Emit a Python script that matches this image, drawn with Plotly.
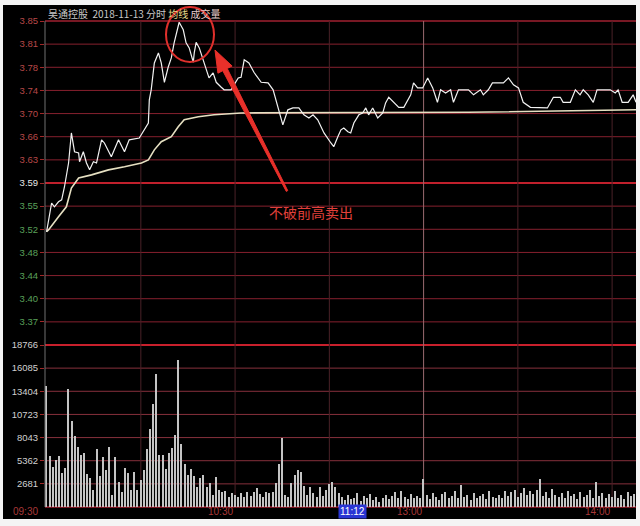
import plotly.graph_objects as go

# ---------------- data (minutes from 09:30, trading time) ----------------
price_time = [0, 1.6, 2.5, 3.8, 4.8, 5.7, 7.0, 7.9, 8.9, 10.2, 10.5, 11.7, 12.7, 13.7, 14.9, 15.9,
              17.5, 18.4, 20.6, 22.9, 24.8, 26.3, 29.5, 30.8, 31.7, 32.4, 32.7, 33.3, 34.3, 35.6,
              36.5, 37.5, 38.7, 39.7, 40.6, 41.9, 42.2, 43.5, 44.4, 45.4, 46.7, 47.0, 47.6, 48.6,
              49.8, 50.8, 51.7, 53.0, 54.0, 55.6, 56.5, 58.7, 61.0, 61.9, 62.9, 64.4, 66.0, 68.3,
              70.5, 72.1, 73.7, 75.2, 76.8, 78.4, 80.3, 81.9, 83.5, 84.8, 86.3, 88.3, 90.5, 91.4,
              92.7, 93.7, 94.6, 95.9, 96.8, 97.8, 99.4, 100.6, 101.6, 102.5, 103.8, 105.4, 107.0,
              107.9, 108.9, 110.5, 112.1, 113.7, 115.9, 116.8, 118.1, 119.7, 121.3, 122.9, 124.4,
              125.4, 127.0, 128.6, 129.5, 131.1, 134.3, 135.9, 138.1, 139.0, 140.6, 141.9, 145.4,
              147.0, 148.6, 150.2, 151.7, 154.0, 159.4, 161.3, 163.5, 164.4, 166.7, 168.3, 169.8,
              170.8, 172.4, 174.0, 175.2, 179.4, 181.0, 181.9, 183.2, 185.1, 186.7, 187.6]
price_value = [3.513, 3.559, 3.553, 3.561, 3.564, 3.585, 3.623, 3.671, 3.641, 3.639, 3.625, 3.641,
               3.623, 3.612, 3.625, 3.623, 3.660, 3.655, 3.633, 3.660, 3.641, 3.660, 3.663, 3.673,
               3.681, 3.687, 3.724, 3.740, 3.783, 3.799, 3.783, 3.752, 3.776, 3.791, 3.815, 3.844,
               3.848, 3.836, 3.815, 3.807, 3.784, 3.799, 3.816, 3.807, 3.788, 3.772, 3.759, 3.767,
               3.752, 3.744, 3.740, 3.740, 3.759, 3.760, 3.788, 3.783, 3.768, 3.752, 3.751, 3.740,
               3.712, 3.684, 3.708, 3.711, 3.711, 3.700, 3.695, 3.700, 3.692, 3.671, 3.655, 3.649,
               3.665, 3.676, 3.679, 3.673, 3.671, 3.687, 3.700, 3.703, 3.711, 3.700, 3.711, 3.695,
               3.703, 3.719, 3.728, 3.720, 3.712, 3.712, 3.732, 3.751, 3.743, 3.743, 3.759, 3.743,
               3.720, 3.740, 3.735, 3.740, 3.720, 3.740, 3.740, 3.732, 3.740, 3.732, 3.740, 3.751,
               3.751, 3.759, 3.748, 3.743, 3.720, 3.712, 3.711, 3.728, 3.728, 3.720, 3.720, 3.740,
               3.732, 3.740, 3.732, 3.720, 3.740, 3.740, 3.735, 3.740, 3.720, 3.720, 3.732, 3.720]

avg_time = [0, 0.6, 3.8, 6.3, 7.9, 10.2, 14.3, 19.7, 24.8, 30.2, 32.4, 34.3, 36.5, 39.7, 41.9,
            43.8, 48.3, 53.3, 61.9, 112.1, 134.3, 187.6]
avg_value = [3.513, 3.516, 3.537, 3.553, 3.583, 3.599, 3.604, 3.612, 3.617, 3.623, 3.628, 3.644,
             3.657, 3.665, 3.681, 3.692, 3.697, 3.700, 3.703, 3.703, 3.704, 3.708]

volume = [14040, 5870, 4600, 5400, 5870, 3900, 4490, 13700, 10000, 8170,
          6900, 5980, 6200, 3800, 3340, 1960, 6680, 3570, 5750, 4260,
          6900, 1380, 5750, 2880, 1730, 4490, 3900, 1960, 4030, 1960,
          3110, 4260, 6680, 9090, 11970, 15420, 5980, 5980, 4370, 6200,
          6790, 8290, 17030, 7250, 4950, 3680, 4370, 3570, 2300, 3340,
          3680, 2300, 2760, 1380, 3450, 1960, 1730, 1840, 1150, 1610,
          1380, 1150, 1610, 1150, 1730, 1270, 1730, 2190, 1500, 1150,
          1730, 1610, 1730, 2760, 4950, 7940, 1380, 1150, 2760, 3680,
          4260, 4030, 2420, 1380, 2300, 1610, 1150, 2300, 1270, 1960,
          2650, 2880, 2300, 1610, 1200, 800, 1400, 950, 1100, 1600,
          700, 1300, 1000, 1500, 800, 1200, 600, 1100, 1400, 900,
          1300, 1700, 1000, 1800, 1200, 900, 1500, 1100, 1300, 1000,
          3300, 1400, 900, 1600, 1200, 800, 1500, 1700, 1000, 1300,
          1900, 1100, 2500, 1200, 1400, 800, 1600, 1100, 1300, 1500,
          900, 1800, 1200, 1000, 1400, 1100, 1900, 1300, 1700, 2000,
          1200, 1600, 2200, 1400, 1800, 1500, 2000, 3300, 1300, 1700,
          1100, 2100, 1400, 1200, 1600, 1000, 1800, 1300, 1500, 900,
          1700, 1200, 1400, 2000, 1100, 2900, 1300, 1600, 1000, 1500,
          1200, 1800, 1100, 1400, 900, 1700, 1300, 1500]
volume_time = list(range(len(volume)))

price_tick_vals = [3.850, 3.813, 3.776, 3.739, 3.702, 3.665, 3.628, 3.591,
                   3.554, 3.517, 3.480, 3.443, 3.406, 3.369]
price_tick_labels = ["3.85", "3.81", "3.78", "3.74", "3.70", "3.66", "3.63", "3.59",
                     "3.55", "3.52", "3.48", "3.44", "3.40", "3.37"]
prev_close = 3.591
price_bottom = 3.332

vol_tick_vals = [2681, 5362, 8043, 10723, 13404, 16085, 18766]
vol_tick_labels = ["2681", "5362", "8043", "10723", "13404", "16085", "18766"]

time_grid = [30, 60, 90, 120, 150, 180]
time_label_pos = [0, 60, 120, 180]
time_labels = ["09:30", "10:30", "13:00", "14:00"]
cursor_time = 102
cursor_label = "11:12"

# ---------------- layout helpers (pixel -> paper for decorations) ----------------
W, H = 640, 526
L, R, T, B = 45, 4, 21, 19
PW, PH = W - L - R, H - T - B


def px(x):
    return (x - L) / PW


def py(y):
    return (H - B - y) / PH


FONT = "Liberation Sans, Arial, sans-serif"
CJK = "Noto Sans CJK SC, sans-serif"

fig = go.Figure()

fig.add_trace(go.Bar(x=volume_time, y=volume, yaxis="y2", width=0.45,
                     marker=dict(color="#c4c4c4", line=dict(width=0)), hoverinfo="skip"))
fig.add_trace(go.Scatter(x=avg_time, y=avg_value, mode="lines",
                         line=dict(color="#e6e0c2", width=1.6), hoverinfo="skip"))
fig.add_trace(go.Scatter(x=price_time, y=price_value, mode="lines",
                         line=dict(color="#f2f2f2", width=1.2), hoverinfo="skip"))

shapes = []
# horizontal grid lines
for v in price_tick_vals[1:]:
    strong = abs(v - prev_close) < 1e-6
    shapes.append(dict(type="line", xref="paper", yref="y", x0=0, x1=1, y0=v, y1=v,
                       line=dict(color="#c0202c" if strong else "#86202e", width=2 if strong else 1),
                       layer="below"))
for v in vol_tick_vals[:-1]:
    shapes.append(dict(type="line", xref="paper", yref="y2", x0=0, x1=1, y0=v, y1=v,
                       line=dict(color="#86303c", width=1), layer="below"))
shapes.append(dict(type="line", xref="paper", yref="paper", x0=0, x1=1, y0=1, y1=1,
                   line=dict(color="#a02030", width=1.5), layer="below"))
shapes.append(dict(type="line", xref="paper", yref="paper", x0=0, x1=1, y0=1 / 3, y1=1 / 3,
                   line=dict(color="#c8202c", width=2), layer="below"))
shapes.append(dict(type="line", xref="paper", yref="paper", x0=0, x1=1, y0=0, y1=0,
                   line=dict(color="#a02030", width=1.5), layer="below"))
# vertical grid lines
for t in time_grid:
    shapes.append(dict(type="line", xref="x", yref="paper", x0=t, x1=t, y0=0, y1=1,
                       line=dict(color="#9a6a70" if t == 120 else "#4a2228", width=1),
                       layer="below"))
# left axis line
shapes.append(dict(type="line", xref="paper", yref="paper", x0=0, x1=0, y0=0, y1=1,
                   line=dict(color="#707070", width=1)))

# red circle
shapes.append(dict(type="circle", xref="paper", yref="paper",
                   x0=px(166), x1=px(214), y0=py(62), y1=py(7),
                   line=dict(color="#e0302c", width=2)))
# red tapered arrow
pts = [(287.7, 190.6), (227.2, 68.5), (232.1, 66.0), (215, 50), (217.9, 73.2),
       (222.8, 70.7), (286.3, 191.4)]
path = "M " + " L ".join(f"{px(a):.4f},{py(b):.4f}" for a, b in pts) + " Z"
shapes.append(dict(type="path", xref="paper", yref="paper", path=path,
                   fillcolor="#e8302a", line=dict(color="#e8302a", width=1)))

# white outer border of the screenshot
for x0, x1, y0, y1 in [(0, 640, 0, 5), (0, 640, 519, 526), (0, 3, 0, 526), (636, 640, 0, 526)]:
    shapes.append(dict(type="rect", xref="paper", yref="paper",
                       x0=px(x0), x1=px(x1), y0=py(y1), y1=py(y0),
                       fillcolor="#f4f4f4", line=dict(width=0), layer="above"))

annotations = []
for t, lab in zip(time_label_pos, time_labels):
    annotations.append(dict(x=t, y=py(512), xref="x", yref="paper", text=lab,
                            showarrow=False, xanchor="right", yanchor="middle",
                            xshift=-7 if t == 0 else 0,
                            font=dict(family=FONT, size=10, color="#a83838")))
annotations.append(dict(x=cursor_time, y=py(512), xref="x", yref="paper", text=cursor_label,
                        showarrow=False, xanchor="right", yanchor="middle",
                        bgcolor="#2a36d4", borderpad=1,
                        font=dict(family=FONT, size=10, color="#ffffff")))
# title
annotations.append(dict(x=px(46), y=py(13), xref="paper", yref="paper",
                        text=("<span style='color:#c8c8c8'>吴通控股&nbsp;&nbsp;2018-11-13 分时</span>"
                              "&nbsp;<span style='color:#e8dc8a'>均线</span>"
                              "&nbsp;<span style='color:#e6c8c8'>成交量</span>"),
                        showarrow=False, xanchor="left", yanchor="middle",
                        font=dict(family=CJK, size=10)))
annotations.append(dict(x=px(311), y=py(212), xref="paper", yref="paper", text="不破前高卖出",
                        showarrow=False, xanchor="center", yanchor="middle",
                        font=dict(family=CJK, size=14, color="#e0403a")))


def tick_color(v):
    if abs(v - prev_close) < 1e-6:
        return "#e8e8e8"
    return "#b84848" if v > prev_close else "#5aa05a"


price_text = [f"<span style='color:{tick_color(v)}'>{s}</span>"
              for v, s in zip(price_tick_vals, price_tick_labels)]

fig.update_layout(
    width=W, height=H,
    margin=dict(l=L, r=R, t=T, b=B),
    paper_bgcolor="#000000", plot_bgcolor="#000000",
    showlegend=False, bargap=0,
    xaxis=dict(range=[-0.5, 187.6], showgrid=False, zeroline=False,
               showticklabels=False, ticks="", fixedrange=True),
    yaxis=dict(domain=[1 / 3, 1], range=[price_bottom, 3.85], tickmode="array",
               tickvals=price_tick_vals, ticktext=price_text, showgrid=False, zeroline=False,
               ticks="outside", ticklen=4, tickcolor="#a02828",
               tickfont=dict(family=FONT, size=9.5, color="#cccccc")),
    yaxis2=dict(domain=[0, 1 / 3], range=[0, 18766], tickmode="array",
                tickvals=vol_tick_vals, ticktext=vol_tick_labels, showgrid=False, zeroline=False,
                ticks="outside", ticklen=4, tickcolor="#a02828",
                tickfont=dict(family=FONT, size=9.5, color="#d0d0d0")),
    shapes=shapes,
    annotations=annotations,
)

fig.write_html("out.html", config={"displayModeBar": False},
               post_script="document.body.style.margin='0';document.body.style.overflow='hidden';")
